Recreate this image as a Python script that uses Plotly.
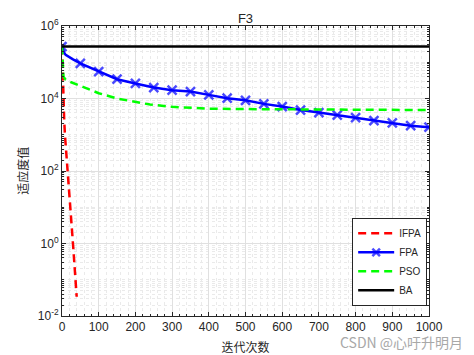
import plotly.graph_objects as go

# ---------------- data ----------------
ifpa_x = [0, 1, 2, 4, 6, 8, 12, 16, 20, 24, 28, 32, 36, 40]
ifpa_y = [2.7e5, 1.0e5, 4.0e4, 1.0e4, 2.5e3, 1.0e3, 250, 70, 20, 6.3, 1.8, 0.5, 0.126, 0.034]

fpa_x = [0, 5, 10, 20, 30, 50, 100, 150, 200, 250, 300, 350, 400, 450, 500,
         550, 600, 650, 700, 750, 800, 850, 900, 950, 1000]
fpa_y = [2.7e5, 1.9e5, 1.6e5, 1.35e5, 1.2e5, 9.3e4, 5.5e4, 3.4e4, 2.6e4, 2.0e4, 1.7e4,
         1.55e4, 1.26e4, 1.02e4, 8.9e3, 7.1e3, 6.0e3, 4.8e3, 4.1e3, 3.5e3, 2.95e3,
         2.45e3, 2.14e3, 1.78e3, 1.62e3]

pso_x = [0, 2, 4, 10, 25, 57, 100, 150, 200, 240, 300, 350, 400, 500, 600, 700, 800, 1000]
pso_y = [2.7e5, 6.3e4, 4.0e4, 3.3e4, 2.8e4, 2.1e4, 1.4e4, 1.0e4, 7.9e3, 6.8e3, 5.9e3,
         5.5e3, 5.25e3, 5.1e3, 5.0e3, 4.9e3, 4.9e3, 4.8e3]

ba_x = [0, 1000]
ba_y = [2.7e5, 2.7e5]

y_tickvals = [1e-2, 1e0, 1e2, 1e4, 1e6]
y_ticktext = ["10<sup>-2</sup>", "10<sup>0</sup>", "10<sup>2</sup>", "10<sup>4</sup>", "10<sup>6</sup>"]
x_tickvals = list(range(0, 1001, 100))

title_text = "F3"
x_label = "迭代次数"
y_label = "适应度值"
watermark = "CSDN @心吁升明月"

# ---------------- figure ----------------
fig = go.Figure()
fig.add_trace(go.Scatter(x=ifpa_x, y=ifpa_y, mode="lines", name="IFPA",
                         line=dict(color="#ff0000", width=2.5, dash="8px,5px")))
fpa_sizes = [9 if x % 50 == 0 else 0 for x in fpa_x]
fig.add_trace(go.Scatter(x=fpa_x, y=fpa_y, mode="lines+markers", name="FPA",
                         line=dict(color="#0000ff", width=2.5),
                         marker=dict(symbol="x-thin", size=fpa_sizes, color="#0000ff",
                                     line=dict(width=2.5, color="#0000ff"))))
fig.add_trace(go.Scatter(x=pso_x, y=pso_y, mode="lines", name="PSO",
                         line=dict(color="#00ff00", width=2.5, dash="8px,5px")))
fig.add_trace(go.Scatter(x=ba_x, y=ba_y, mode="lines", name="BA",
                         line=dict(color="#000000", width=2.5)))

axis_common = dict(
    showline=True, linecolor="#262626", linewidth=1, mirror="ticks",
    ticks="inside", ticklen=4, tickcolor="#262626", automargin=False,
    tickfont=dict(family="Arial, Liberation Sans", size=12, color="#262626"),
    showgrid=True, gridcolor="#e0e0e0", gridwidth=1, zeroline=False,
)

fig.update_xaxes(range=[0, 1000], tickvals=x_tickvals,
                 title=dict(text=x_label, font=dict(family="Noto Sans CJK SC", size=12, color="#262626")),
                 minor=dict(dtick=20, showgrid=True, gridcolor="#eaeaea", griddash="dot",
                            ticks="inside", ticklen=2, tickcolor="#262626"),
                 **axis_common)
fig.update_yaxes(type="log", range=[-2, 6], tickvals=y_tickvals, ticktext=y_ticktext,
                 minor=dict(dtick="D1", showgrid=True, gridcolor="#eaeaea", griddash="dot",
                            ticks="inside", ticklen=2, tickcolor="#262626"),
                 **axis_common)

# the page body adds an offset, so the figure is a little smaller than the window
fig.update_layout(
    width=466, height=347,
    margin=dict(l=54, r=45, t=18, b=39),
    paper_bgcolor="white", plot_bgcolor="white",
    title=dict(text=title_text, x=0.5, xanchor="center", xref="paper",
               y=1, yref="paper", yanchor="bottom", pad=dict(b=3),
               font=dict(family="Arial, Liberation Sans", size=13, color="#262626")),
    legend=dict(x=0.995, y=0.035, xanchor="right", yanchor="bottom",
                bgcolor="white", bordercolor="#262626", borderwidth=1,
                font=dict(family="Arial, Liberation Sans", size=10, color="#262626"),
                itemwidth=36, tracegroupgap=0),
    showlegend=True,
)

fig.add_annotation(text=y_label, xref="paper", yref="paper", x=-0.11, y=0.5,
                   xanchor="center", yanchor="middle", textangle=-90, showarrow=False,
                   font=dict(family="Noto Sans CJK SC", size=12, color="#262626"))

fig.add_annotation(text=watermark, xref="paper", yref="paper", x=1.098, y=-0.09,
                   xanchor="right", yanchor="middle", showarrow=False,
                   font=dict(family="Noto Sans CJK SC", size=14, color="#a8a8a8"))

fig.write_html("out.html")
